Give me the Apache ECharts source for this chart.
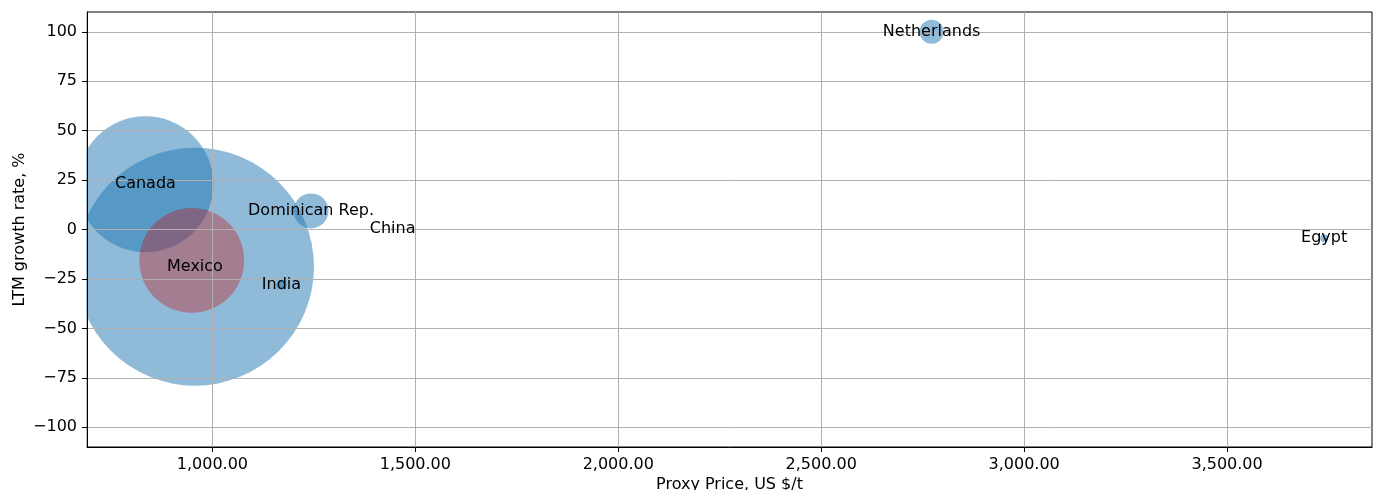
<!DOCTYPE html>
<html>
<head>
<meta charset="utf-8">
<script src="https://cdn.jsdelivr.net/npm/echarts@6/dist/echarts.min.js"></script>
<style>
  html, body { margin: 0; padding: 0; background: #fff; }
  #chart { width: 1373px; height: 490px; }
</style>
</head>
<body>
<div id="chart"></div>
<script>
// country bubbles
const countries = ['Canada', 'Mexico', 'Dominican Rep.', 'China', 'India', 'Netherlands', 'Egypt']
const price = [835, 957, 1243, 1444, 1170, 2772, 3739] // US $/t
const growth = [22.9, -18.8, 9.4, 0.2, -28, 100, -4.4] // %
const volume = [1850, 5664, 122, 1, 10, 58, 6] // bubble size value

// highlighted bubble (red, no label)
const hlPrice = [949]
const hlGrowth = [-15.6]
const hlVolume = [1100]

const xTicks = [1000, 1500, 2000, 2500, 3000, 3500]
const yTicks = [-100, -75, -50, -25, 0, 25, 50, 75, 100]

const font = 'DejaVu Sans'
const fs = 16
const sizeOf = (v) => Math.sqrt(v * 10)

const chart = echarts.init(document.getElementById('chart'), null, { renderer: 'canvas' })

const pointData = countries.map((c, i) => ({ name: c, value: [price[i], growth[i], volume[i]] }))

const option = {
  animation: false,
  textStyle: { fontFamily: font },
  grid: {
    left: 87,
    right: 1,
    top: 12,
    bottom: 43,
    outerBoundsMode: 'none',
    show: true,
    borderColor: '#000',
    borderWidth: 1
  },
  // white band left of the plot so bubbles look clipped at the y axis
  graphic: {
    z: 5,
    elements: [
      {
        type: 'rect',
        z: 5,
        silent: true,
        shape: { x: 0, y: 0, width: 86.5, height: 490 },
        style: { fill: '#fff' }
      }
    ]
  },
  xAxis: {
    type: 'value',
    z: 10,
    min: 691,
    max: 3857,
    name: 'Proxy Price, US $/t',
    nameLocation: 'middle',
    nameGap: 30,
    nameMoveOverlap: false,
    nameTextStyle: { color: '#000', fontSize: fs, fontFamily: font, verticalAlign: 'top' },
    axisLine: { show: true, onZero: false, lineStyle: { color: '#000', width: 1 } },
    axisTick: { show: true, length: 5, lineStyle: { color: '#000' }, customValues: xTicks },
    axisLabel: {
      color: '#000',
      fontSize: fs,
      fontFamily: font,
      margin: 10,
      customValues: xTicks,
      formatter: (v) => v.toLocaleString('en-US', { minimumFractionDigits: 2, maximumFractionDigits: 2 })
    },
    splitLine: { show: true, lineStyle: { color: '#b0b0b0', width: 1 } }
  },
  yAxis: {
    type: 'value',
    z: 10,
    min: -110,
    max: 110,
    name: 'LTM growth rate, %',
    nameLocation: 'middle',
    nameRotate: 90,
    nameGap: 59,
    nameMoveOverlap: false,
    nameTextStyle: { color: '#000', fontSize: fs, fontFamily: font },
    axisLine: { show: true, onZero: false, lineStyle: { color: '#000', width: 1 } },
    axisTick: { show: true, length: 5, lineStyle: { color: '#000' }, customValues: yTicks },
    axisLabel: {
      color: '#000',
      fontSize: fs,
      fontFamily: font,
      margin: 10,
      customValues: yTicks,
      formatter: (v) => (v < 0 ? '\u2212' + Math.abs(v) : String(v))
    },
    splitLine: { show: true, lineStyle: { color: '#b0b0b0', width: 1 } }
  },
  series: [
    {
      name: 'countries',
      type: 'scatter',
      z: 2,
      data: pointData,
      symbolSize: (val) => sizeOf(val[2]),
      itemStyle: { color: 'rgba(31,119,180,0.5)', opacity: 1 },
      emphasis: { disabled: true }
    },
    {
      name: 'highlight',
      type: 'scatter',
      z: 3,
      data: hlPrice.map((p, i) => [p, hlGrowth[i], hlVolume[i]]),
      symbolSize: (val) => sizeOf(val[2]),
      itemStyle: { color: 'rgba(200,10,10,0.35)', opacity: 1 },
      emphasis: { disabled: true }
    },
    {
      // country names above bubbles and grid lines
      name: 'labels',
      type: 'scatter',
      z: 11,
      data: pointData,
      symbolSize: 1,
      itemStyle: { color: 'rgba(0,0,0,0)', opacity: 1 },
      label: {
        show: true,
        position: 'inside',
        formatter: '{b}',
        color: '#000',
        fontSize: fs,
        fontFamily: font
      },
      labelLayout: { hideOverlap: false },
      emphasis: { disabled: true },
      silent: true
    }
  ]
}

chart.setOption(option)
window.addEventListener('resize', () => chart.resize())
</script>
</body>
</html>
